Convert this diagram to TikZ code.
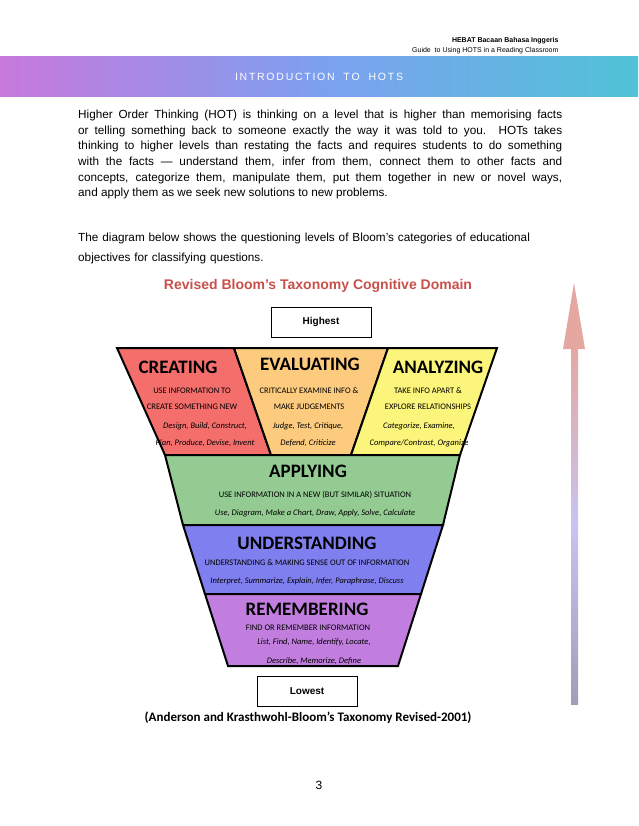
\documentclass[tikz,border=0pt]{standalone}
\usepackage{fontspec}
\setmainfont{Liberation Sans}
\newfontfamily\carlitofont{Carlito}
\usetikzlibrary{calc}
\definecolor{titlered}{HTML}{C8504A}
\definecolor{cre}{HTML}{F46E6C}
\definecolor{eva}{HTML}{FCCB7E}
\definecolor{ana}{HTML}{FBF57C}
\definecolor{app}{HTML}{93CB92}
\definecolor{und}{HTML}{7F7FEF}
\definecolor{rem}{HTML}{C27EDF}
\definecolor{barL}{RGB}{200,120,220}
\definecolor{barM}{RGB}{125,160,240}
\definecolor{barR}{RGB}{80,195,215}
\definecolor{arT}{RGB}{228,168,160}
\definecolor{arM}{RGB}{200,195,240}
\definecolor{arB}{RGB}{160,158,185}
\tikzset{
 lvl/.style={draw=black,line width=2pt,line join=miter},
 head/.style={font=\carlitofont\bfseries\fontsize{19}{20}\selectfont,anchor=center},
 sub/.style={font=\carlitofont\fontsize{8.5}{16.5}\selectfont,align=center,anchor=north},
 ital/.style={font=\carlitofont\itshape\fontsize{8.5}{17}\selectfont,align=center,anchor=north},
 labbox/.style={draw=black,line width=0.6pt,minimum width=100pt,minimum height=30pt,font=\bfseries\fontsize{10}{12}\selectfont}
}
\begin{document}
\begin{tikzpicture}[x=1pt,y=-1pt]
\useasboundingbox (0,0) rectangle (638,826);
% header
\node[anchor=east,font=\bfseries\fontsize{7}{8}\selectfont] (h1) at (562,41) {HEBAT Bacaan Bahasa Inggeris};
\node[anchor=east,font=\fontsize{7}{8}\selectfont] (h2) at (562,51) {Guide\ \ to Using HOTS in a Reading Classroom};
\shade[left color=barL,right color=barR,middle color=barM] (0,57) rectangle (638,97);
\node[white,font=\fontsize{10.5}{12}\selectfont] (bar) at (319,77) {I\,N\,T\,R\,O\,D\,U\,C\,T\,I\,O\,N\ \ \ T\,O\ \ \ H\,O\,T\,S};
% paragraphs
\node[anchor=north west,text width=484pt,align=justify,inner sep=0pt,font=\fontsize{11.75}{15.6}\selectfont] (p1) at (78,110) {Higher Order Thinking (HOT) is thinking on a level that is higher than memorising facts\linebreak or telling something back to someone exactly the way it was told to you. HOTs takes\linebreak thinking to higher levels than restating the facts and requires students to do something\linebreak with the facts --- understand them, infer from them, connect them to other facts and\linebreak concepts, categorize them, manipulate them, put them together in new or novel ways,\linebreak and apply them as we seek new solutions to new problems.};
\node[anchor=north west,text width=484pt,align=left,inner sep=0pt,font=\fontsize{11.75}{19.5}\selectfont] (p2) at (78,233) {The diagram below shows the questioning levels of Bloom’s categories of educational\\objectives for classifying questions.};
\node[titlered,font=\bfseries\fontsize{14}{16}\selectfont] (title) at (318,286) {Revised Bloom's Taxonomy Cognitive Domain};
\node[labbox] (hi) at (321,322) {Highest};
% pyramid
\coordinate (TL) at (117,348); \coordinate (TR) at (497,348);
\coordinate (L1) at (165,455); \coordinate (R1) at (460,455);
\coordinate (L2) at (183,525); \coordinate (R2) at (443,525);
\coordinate (L3) at (205,594); \coordinate (R3) at (421,594);
\coordinate (L4) at (228,666); \coordinate (R4) at (398,666);
\coordinate (D1t) at (234,348); \coordinate (D1b) at (271,455);
\coordinate (D2t) at (388,348); \coordinate (D2b) at (351,455);
\filldraw[lvl,fill=cre] (TL)--(D1t)--(D1b)--(L1)--cycle;
\filldraw[lvl,fill=eva] (D1t)--(D2t)--(D2b)--(D1b)--cycle;
\filldraw[lvl,fill=ana] (D2t)--(TR)--(R1)--(D2b)--cycle;
\filldraw[lvl,fill=app] (L1)--(R1)--(R2)--(L2)--cycle;
\filldraw[lvl,fill=und] (L2)--(R2)--(R3)--(L3)--cycle;
\filldraw[lvl,fill=rem] (L3)--(R3)--(R4)--(L4)--cycle;
% top row texts
\node[head] (cre) at (178,367) {CREATING};
\node[sub] (cre1) at (192,384) {USE INFORMATION TO\\CREATE SOMETHING NEW};
\node[ital] (cre2) at (205,419) {Design, Build, Construct,\\Plan, Produce, Devise, Invent};
\node[head] (eva) at (310,364) {EVALUATING};
\node[sub] (eva1) at (309,384) {CRITICALLY EXAMINE INFO \&\\MAKE JUDGEMENTS};
\node[ital] (eva2) at (308,419) {Judge, Test, Critique,\\Defend, Criticize};
\node[head] (ana) at (438,367) {ANALYZING};
\node[sub] (ana1) at (428,384) {TAKE INFO APART \&\\EXPLORE RELATIONSHIPS};
\node[ital] (ana2) at (419,419) {Categorize, Examine,\\Compare/Contrast, Organize};
\node[head] (app) at (308,471) {APPLYING};
\node[sub] (app1) at (315,488) {USE INFORMATION IN A NEW (BUT SIMILAR) SITUATION};
\node[ital] (app2) at (315,506) {Use, Diagram, Make a Chart, Draw, Apply, Solve, Calculate};
\node[head] (und) at (307,543) {UNDERSTANDING};
\node[sub] (und1) at (307,556) {UNDERSTANDING \& MAKING SENSE OUT OF INFORMATION};
\node[ital] (und2) at (307,574) {Interpret, Summarize, Explain, Infer, Paraphrase, Discuss};
\node[head] (rem) at (307,609) {REMEMBERING};
\node[sub] (rem1) at (308,621) {FIND OR REMEMBER INFORMATION};
\node[ital,align=center] (rem2) at (314,635) {List, Find, Name, Identify, Locate,\\[2pt]Describe, Memorize, Define};
\node[labbox] (lo) at (307,691) {Lowest};
\node[font=\carlitofont\bfseries\fontsize{13}{15}\selectfont] (cite) at (308,718) {(Anderson and Krasthwohl-Bloom’s Taxonomy Revised-2001)};
% arrow
\shade[top color=arT,bottom color=arB,middle color=arM] (571,346) rectangle (578,704);
\fill[arT] (574,283)--(585,349)--(563,349)--cycle;
\node[font=\fontsize{12}{14}\selectfont] (pg) at (319,785) {3};
\end{tikzpicture}
\end{document}
